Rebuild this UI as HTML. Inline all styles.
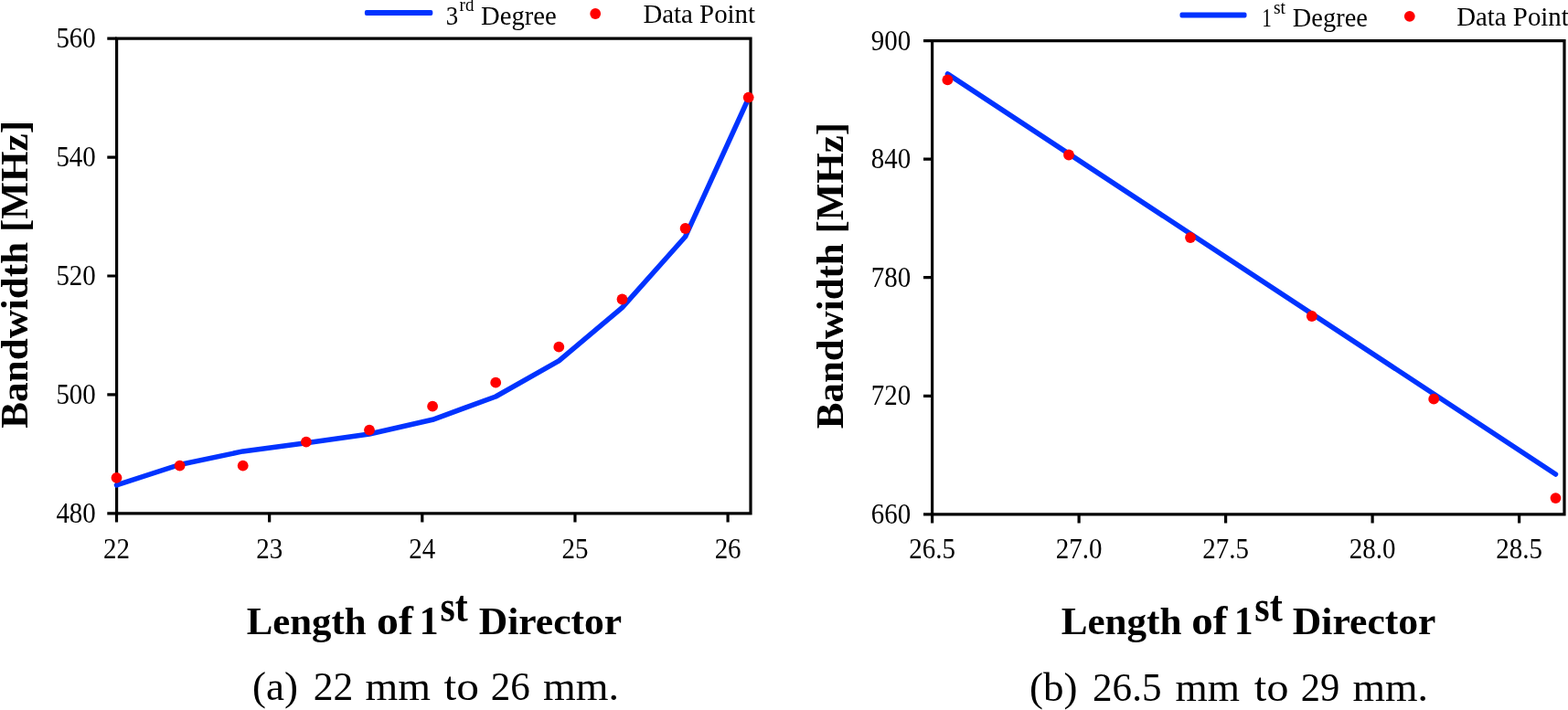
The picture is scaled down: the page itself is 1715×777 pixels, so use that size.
<!DOCTYPE html>
<html><head><meta charset="utf-8"><title>Bandwidth vs Length of 1st Director</title>
<style>
html,body{margin:0;padding:0;background:#fff;}
body{width:1715px;height:777px;overflow:hidden;position:relative;}
svg{position:absolute;left:0;top:0;display:block;}
text{font-family:"Liberation Serif","Times New Roman",serif;fill:#000;}
</style></head><body>
<svg width="1715" height="777" viewBox="0 0 1715 777">
<path d="M127.6 42.2 H821 V561.8 H127.6 Z" fill="none" stroke="#000" stroke-width="3.2"/>
<path d="M117.3 42.2 H127.6 M117.3 172.1 H127.6 M117.3 302.0 H127.6 M117.3 431.9 H127.6 M117.3 561.8 H127.6" stroke="#000" stroke-width="3.2"/>
<path d="M127.50 561.8 V571.6 M294.65 561.8 V571.6 M461.80 561.8 V571.6 M628.95 561.8 V571.6 M796.10 561.8 V571.6" stroke="#000" stroke-width="3.2"/>
<polyline points="127.5,530.9 196.6,508.5 265.7,493.9 334.9,484.7 404.0,475.0 473.1,459.3 542.2,434.0 611.3,394.9 680.5,336.7 749.6,259.0 819.4,106.0" fill="none" stroke="#0033ff" stroke-width="5.5" stroke-linejoin="round" stroke-linecap="round"/>
<g fill="#ff0000"><circle cx="127.5" cy="522.8" r="5.9"/><circle cx="196.6" cy="509.7" r="5.9"/><circle cx="265.7" cy="509.7" r="5.9"/><circle cx="334.9" cy="483.6" r="5.9"/><circle cx="404.0" cy="470.6" r="5.9"/><circle cx="473.1" cy="444.7" r="5.9"/><circle cx="542.2" cy="418.7" r="5.9"/><circle cx="611.3" cy="379.7" r="5.9"/><circle cx="680.5" cy="327.5" r="5.9"/><circle cx="749.6" cy="250.0" r="5.9"/><circle cx="818.7" cy="106.6" r="5.9"/></g>
<rect x="398.9" y="10.9" width="74.4" height="6" rx="2" fill="#0033ff"/>
<circle cx="651.2" cy="15.0" r="5.9" fill="#ff0000"/>
<path d="M1019.6 44.6 H1711 V562.8 H1019.6 Z" fill="none" stroke="#000" stroke-width="3.2"/>
<path d="M1010 44.6 H1019.6 M1010 174.2 H1019.6 M1010 303.7 H1019.6 M1010 433.3 H1019.6 M1010 562.8 H1019.6" stroke="#000" stroke-width="3.2"/>
<path d="M1019.6 562.8 V572.6 M1180.1 562.8 V572.6 M1340.6 562.8 V572.6 M1501.1 562.8 V572.6 M1661.6 562.8 V572.6" stroke="#000" stroke-width="3.2"/>
<line x1="1036.4" y1="80.9" x2="1701.5" y2="519" stroke="#0033ff" stroke-width="5.5" stroke-linecap="round"/>
<g fill="#ff0000"><circle cx="1036.4" cy="87.4" r="5.9"/><circle cx="1169" cy="169.5" r="5.9"/><circle cx="1302" cy="260" r="5.9"/><circle cx="1434.8" cy="346" r="5.9"/><circle cx="1568.2" cy="436.7" r="5.9"/><circle cx="1701.5" cy="545.1" r="5.9"/></g>
<rect x="1290.5" y="13.4" width="73" height="6" rx="2" fill="#0033ff"/>
<circle cx="1541.8" cy="17.8" r="5.9" fill="#ff0000"/>
<text transform="translate(487.66,26.90) scale(0.8854,1)" font-size="30.30">3</text>
<text transform="translate(502.62,12.30) scale(0.9500,1)" font-size="20.00">rd</text>
<text transform="translate(526.04,26.90) scale(0.9587,1)" font-size="29.92">Degree</text>
<text transform="translate(703.43,24.90) scale(0.9925,1)" font-size="29.09">Data Point</text>
<text transform="translate(1380.30,29.00) scale(0.7268,1)" font-size="29.09">1</text>
<text transform="translate(1393.02,14.90) scale(0.9506,1)" font-size="20.53">st</text>
<text transform="translate(1413.85,29.00) scale(0.9909,1)" font-size="28.70">Degree</text>
<text transform="translate(1593.13,27.70) scale(0.9624,1)" font-size="30.00">Data Point</text>
<text transform="translate(30.10,468.65) rotate(-90) scale(1.0034,1)" font-size="43.00" font-weight="bold">Bandwidth [MHz]</text>
<text transform="translate(922.20,469.14) rotate(-90) scale(1.0104,1)" font-size="42.50" font-weight="bold">Bandwidth [MHz]</text>
<text transform="translate(269.66,693.60) scale(1.0013,1)" font-size="42.75" font-weight="bold">Length</text>
<text transform="translate(411.99,693.60) scale(1.0747,1)" font-size="44.50" font-weight="bold">of</text>
<text transform="translate(458.67,693.60) scale(0.9312,1)" font-size="44.70" font-weight="bold">1</text>
<text transform="translate(523.75,693.60) scale(1.0332,1)" font-size="42.17" font-weight="bold">Director</text>
<text transform="translate(1160.65,693.90) scale(1.0300,1)" font-size="41.88" font-weight="bold">Length</text>
<text transform="translate(1303.32,693.90) scale(1.0580,1)" font-size="44.50" font-weight="bold">of</text>
<text transform="translate(1350.01,693.90) scale(0.9222,1)" font-size="44.55" font-weight="bold">1</text>
<text transform="translate(1413.85,693.90) scale(1.0239,1)" font-size="42.61" font-weight="bold">Director</text>
<text transform="translate(481.55,679.80) scale(0.8438,1)" font-size="49.46" font-weight="bold">st</text>
<text transform="translate(1372.33,680.20) scale(0.8588,1)" font-size="49.11" font-weight="bold">st</text>
<text transform="translate(275.98,766.40) scale(1.0112,1)" font-size="44.50">(a)</text>
<text transform="translate(342.74,766.40) scale(0.9788,1)" font-size="44.50">22</text>
<text transform="translate(399.48,766.40) scale(1.0319,1)" font-size="44.50">mm</text>
<text transform="translate(485.41,766.40) scale(1.1113,1)" font-size="44.50">to</text>
<text transform="translate(536.66,766.40) scale(0.9669,1)" font-size="44.50">26</text>
<text transform="translate(593.98,766.40) scale(1.0321,1)" font-size="44.50">mm.</text>
<text transform="translate(1125.97,766.60) scale(1.0118,1)" font-size="44.50">(b)</text>
<text transform="translate(1195.06,766.60) scale(0.9691,1)" font-size="44.50">26.5</text>
<text transform="translate(1285.49,766.60) scale(1.0171,1)" font-size="44.50">mm</text>
<text transform="translate(1371.71,766.60) scale(1.0928,1)" font-size="44.50">to</text>
<text transform="translate(1422.69,766.60) scale(0.9554,1)" font-size="44.50">29</text>
<text transform="translate(1479.49,766.60) scale(1.0269,1)" font-size="44.50">mm.</text>
<text transform="translate(104.80,52.00) scale(0.965,1.05)" text-anchor="end" font-size="30">560</text>
<text transform="translate(104.80,181.90) scale(0.965,1.05)" text-anchor="end" font-size="30">540</text>
<text transform="translate(104.80,311.80) scale(0.965,1.05)" text-anchor="end" font-size="30">520</text>
<text transform="translate(104.80,441.70) scale(0.965,1.05)" text-anchor="end" font-size="30">500</text>
<text transform="translate(104.80,571.60) scale(0.965,1.05)" text-anchor="end" font-size="30">480</text>
<text transform="translate(996.20,54.50) scale(0.965,1.05)" text-anchor="end" font-size="30">900</text>
<text transform="translate(996.20,184.10) scale(0.965,1.05)" text-anchor="end" font-size="30">840</text>
<text transform="translate(996.20,313.70) scale(0.965,1.05)" text-anchor="end" font-size="30">780</text>
<text transform="translate(996.20,443.30) scale(0.965,1.05)" text-anchor="end" font-size="30">720</text>
<text transform="translate(996.20,572.90) scale(0.965,1.05)" text-anchor="end" font-size="30">660</text>
<text transform="translate(127.50,611.10) scale(0.965,1.05)" text-anchor="middle" font-size="30">22</text>
<text transform="translate(294.65,611.10) scale(0.965,1.05)" text-anchor="middle" font-size="30">23</text>
<text transform="translate(461.80,611.10) scale(0.965,1.05)" text-anchor="middle" font-size="30">24</text>
<text transform="translate(628.95,611.10) scale(0.965,1.05)" text-anchor="middle" font-size="30">25</text>
<text transform="translate(796.10,611.10) scale(0.965,1.05)" text-anchor="middle" font-size="30">26</text>
<text transform="translate(1019.60,611.00) scale(0.965,1.05)" text-anchor="middle" font-size="30">26.5</text>
<text transform="translate(1180.10,611.00) scale(0.965,1.05)" text-anchor="middle" font-size="30">27.0</text>
<text transform="translate(1340.60,611.00) scale(0.965,1.05)" text-anchor="middle" font-size="30">27.5</text>
<text transform="translate(1501.10,611.00) scale(0.965,1.05)" text-anchor="middle" font-size="30">28.0</text>
<text transform="translate(1661.60,611.00) scale(0.965,1.05)" text-anchor="middle" font-size="30">28.5</text>
</svg>
</body></html>
